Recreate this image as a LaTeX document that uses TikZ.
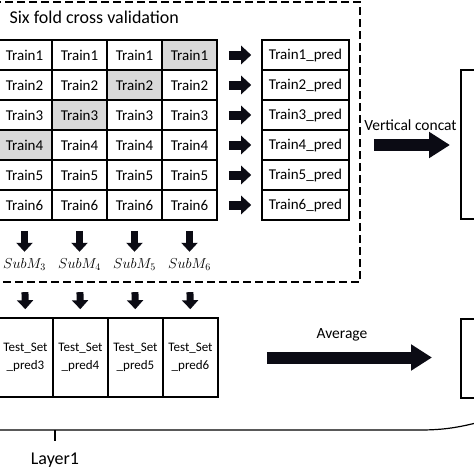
\documentclass[tikz,border=0pt]{standalone}
\usepackage{fontspec}
\setmainfont{Carlito}
\usepackage{tikz}
\usetikzlibrary{arrows.meta,positioning,calc}
\definecolor{shadegray}{HTML}{D9D9D9}
\definecolor{inkdark}{HTML}{0B0B14}
\tikzset{
  cellnode/.style={draw,line width=1.6pt,minimum width=55pt,minimum height=30pt,inner sep=0pt,font=\fontsize{15}{17}\selectfont},
  prednode/.style={cellnode,minimum width=87pt},
  testnode/.style={draw,line width=1.6pt,minimum width=55pt,minimum height=79pt,inner sep=0pt,align=center,font=\fontsize{13}{18}\selectfont},
  sidebox/.style={draw,line width=1.6pt,anchor=north west,minimum width=40pt,inner sep=0pt},
  submnode/.style={inner sep=0pt,text height=9pt,text depth=3pt,font=\fontsize{14.5}{16}\selectfont},
  rightarrow/.style={-{Triangle[length=10pt,width=18pt]},line width=9pt,inkdark},
  downarrow/.style={-{Triangle[length=9pt,width=16pt]},line width=7pt,inkdark},
  bigarrow/.style={-{Triangle[length=21pt,width=25pt]},line width=12pt,inkdark},
  label/.style={font=\fontsize{15.5}{17}\selectfont},
  cvframe/.style={dashed,dash pattern=on 8pt off 4pt,line width=1.4pt}
}
\begin{document}
\begin{tikzpicture}[x=1pt,y=-1pt]
  \useasboundingbox (0,0) rectangle (474,474);

  % cross validation frame
  \draw[cvframe] (-5,2) rectangle (360,282);
  \node[anchor=west,font=\fontsize{18}{20}\selectfont] (title) at (6,17) {Six fold cross validation};

  % fold grid and predictions
  \foreach \r in {1,...,6} {
    \foreach \c in {1,...,4} {
      \pgfmathtruncatemacro{\hit}{\r+\c==5}
      \ifnum\hit=1 \def\cellfill{shadegray}\else\def\cellfill{white}\fi
      \node[cellnode,fill=\cellfill] (cell-\r-\c) at ({24.5+55*(\c-1)},{55+30*(\r-1)}) {Train\r};
    }
    \node[prednode] (pred-\r) at (305.5,{55+30*(\r-1)}) {Train\r\_pred};
    \draw[rightarrow,shorten <=11pt,shorten >=10pt] (cell-\r-4.east) -- (pred-\r.west);
  }

  % sub models and test set predictions
  \foreach \c in {1,...,4} {
    \pgfmathtruncatemacro{\m}{\c+2}
    \node[submnode] (subm-\c) at ({24.5+55*(\c-1)},265) {$SubM_{\m}$};
    \node[testnode] (test-\c) at ({25.5+55*(\c-1)},357.5) {Test\_Set\\\_pred\m};
    \draw[downarrow,shorten <=10pt,shorten >=7pt] (cell-6-\c.south) -- (subm-\c.north);
    \draw[downarrow,shorten <=21pt,shorten >=8pt] (subm-\c.south) -- (test-\c.north);
  }

  % next layer inputs
  \node[sidebox,minimum height=149pt] (trainbox) at (460,69) {};
  \node[sidebox,minimum height=79pt] (testbox) at (460,318) {};
  \node[label] (concat) at (410.5,125) {Vertical concat};
  \node[label] (average) at (342,335) {Average};
  \draw[bigarrow,shorten <=24pt,shorten >=10pt] (pred-4.east) -- (pred-4.east -| trainbox.west);
  \draw[bigarrow,shorten <=48pt,shorten >=28pt] (test-4.east) -- (test-4.east -| testbox.west);

  % layer axis
  \draw[line width=1.2pt] (-5,430) -- (420,430) .. controls (445,430) and (460,427) .. (480,422);
  \coordinate (tick) at (55,430);
  \node[font=\fontsize{18}{20}\selectfont] (layer) at (55,460) {Layer1};
  \draw[line width=1.2pt] (tick) -- ++(0,11);
\end{tikzpicture}
\end{document}
